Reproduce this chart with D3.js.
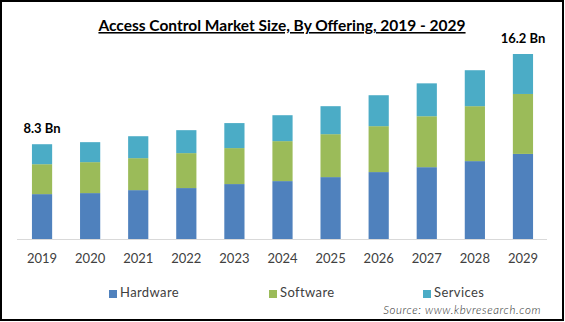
<!DOCTYPE html>
<html>
<head>
<meta charset="utf-8">
<script src="https://cdn.jsdelivr.net/npm/d3@7"></script>
<style>
  body { margin: 0; background: #fff; }
  svg { display: block; font-family: Lato, "Open Sans", sans-serif; }
</style>
</head>
<body>
<svg width="565" height="322"></svg>
<script>
// market size by offering, USD Bn
var years = [2019, 2020, 2021, 2022, 2023, 2024, 2025, 2026, 2027, 2028, 2029];
var hardware = [3.93, 4.02, 4.28, 4.46, 4.81, 5.07, 5.42, 5.86, 6.29, 6.82, 7.45];
var software = [2.62, 2.71, 2.80, 3.06, 3.15, 3.50, 3.76, 4.02, 4.46, 4.81, 5.25];
var services = [1.75, 1.75, 1.92, 2.01, 2.19, 2.27, 2.45, 2.71, 2.88, 3.15, 3.50];
var seriesNames = ["Hardware", "Software", "Services"];
var labelYears = [2019, 2029];

var colors = ["#4f81bd", "#9bbb59", "#4bacc6"];

var svg = d3.select("svg"),
  width = +svg.attr("width"),
  height = +svg.attr("height");

// outer frame
svg.append("rect")
  .attr("x", 1).attr("y", 1)
  .attr("width", width - 3).attr("height", height - 3)
  .attr("fill", "none")
  .attr("stroke", "#000")
  .attr("stroke-width", 2);

// title
svg.append("text")
  .attr("x", 282)
  .attr("y", 31)
  .attr("text-anchor", "middle")
  .style("font-size", "15.5px")
  .style("font-weight", "bold")
  .style("text-decoration", "underline")
  .attr("fill", "#000")
  .text("Access Control Market Size, By Offering, 2019 - 2029");

var table = years.map(function (yr, i) {
  return { year: yr, Hardware: hardware[i], Software: software[i], Services: services[i] };
});

var x = d3.scaleBand()
  .domain(years)
  .range([18, 547])
  .paddingInner(0.58)
  .paddingOuter(0.29);

var y = d3.scaleLinear()
  .domain([0, 16.2])
  .range([239, 54]);

var stack = d3.stack().keys(seriesNames)(table);

svg.append("g")
  .selectAll("g")
  .data(stack)
  .enter().append("g")
  .attr("fill", function (d, i) { return colors[i]; })
  .selectAll("rect")
  .data(function (d) { return d; })
  .enter().append("rect")
  .attr("x", function (d) { return x(d.data.year); })
  .attr("y", function (d) { return y(d[1]); })
  .attr("height", function (d) { return y(d[0]) - y(d[1]); })
  .attr("width", x.bandwidth());

// baseline + year labels
var xAxis = svg.append("g")
  .attr("transform", "translate(0,239)")
  .call(d3.axisBottom(x).tickSize(0).tickPadding(15));
xAxis.select(".domain").attr("stroke", "#d9d9d9").attr("d", "M17,0.5H547");
xAxis.selectAll("text")
  .style("font-family", "Lato, sans-serif")
  .style("font-size", "13px")
  .attr("fill", "#404040");

// totals on first and last bar
svg.append("g")
  .selectAll("text")
  .data(table.filter(function (d) { return labelYears.indexOf(d.year) >= 0; }))
  .enter().append("text")
  .attr("x", function (d) { return x(d.year) + x.bandwidth() / 2; })
  .attr("y", function (d) { return y(d.Hardware + d.Software + d.Services) - 11; })
  .attr("text-anchor", "middle")
  .style("font-size", "13px")
  .style("font-weight", "bold")
  .attr("fill", "#000")
  .text(function (d) { return (d.Hardware + d.Software + d.Services).toFixed(1) + " Bn"; });

// legend
var legendX = [109, 269, 423];
var legend = svg.append("g")
  .selectAll("g")
  .data(seriesNames)
  .enter().append("g")
  .attr("transform", function (d, i) { return "translate(" + legendX[i] + ",297)"; });
legend.append("rect")
  .attr("x", 0).attr("y", -7)
  .attr("width", 8).attr("height", 8)
  .attr("fill", function (d, i) { return colors[i]; });
legend.append("text")
  .attr("x", 11)
  .attr("y", 0)
  .style("font-size", "13px")
  .style("letter-spacing", "0.4px")
  .attr("fill", "#404040")
  .text(function (d) { return d; });

svg.append("text")
  .attr("x", 541)
  .attr("y", 314)
  .attr("text-anchor", "end")
  .style("font-size", "11.5px")
  .style("font-style", "italic")
  .style("font-weight", "300")
  .style("letter-spacing", "0.6px")
  .attr("fill", "#262626")
  .text("Source:  www.kbvresearch.com");
</script>
</body>
</html>
